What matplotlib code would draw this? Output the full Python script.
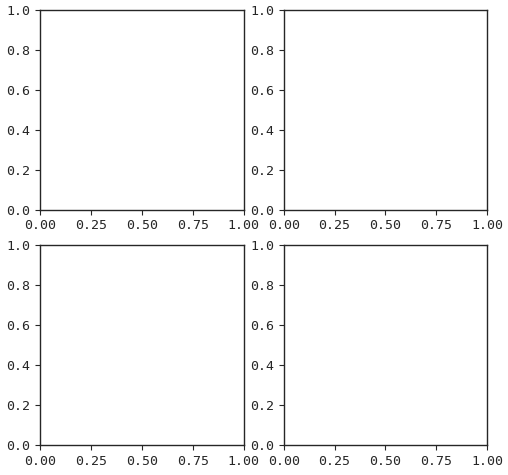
import matplotlib
matplotlib.use("Agg")
import matplotlib.pyplot as plt

# empty 2x2 grid, default limits
x_ticks = [0.00, 0.25, 0.50, 0.75, 1.00]
y_ticks = [0.0, 0.2, 0.4, 0.6, 0.8, 1.0]
x_labels = ["0.00", "0.25", "0.50", "0.75", "1.00"]
y_labels = ["0.0", "0.2", "0.4", "0.6", "0.8", "1.0"]

DARK = "#262626"
plt.rcParams["font.family"] = ["DejaVu Sans Mono", "Noto Sans CJK SC"]
plt.rcParams["font.size"] = 9.5
plt.rcParams["text.color"] = DARK
plt.rcParams["xtick.color"] = DARK
plt.rcParams["ytick.color"] = DARK
plt.rcParams["axes.edgecolor"] = DARK
plt.rcParams["axes.linewidth"] = 1.0

fig, axes = plt.subplots(2, 2, figsize=(5.08, 4.75), dpi=100)
fig.subplots_adjust(left=0.079, right=0.959, top=0.979, bottom=0.063,
                    wspace=0.197, hspace=0.18)

for ax in axes.flat:
    ax.set_xticks(x_ticks)
    ax.set_xticklabels(x_labels)
    ax.set_yticks(y_ticks)
    ax.set_yticklabels(y_labels)
    ax.set_xlim(0, 1)
    ax.set_ylim(0, 1)

fig.savefig("out.png", dpi=100)
